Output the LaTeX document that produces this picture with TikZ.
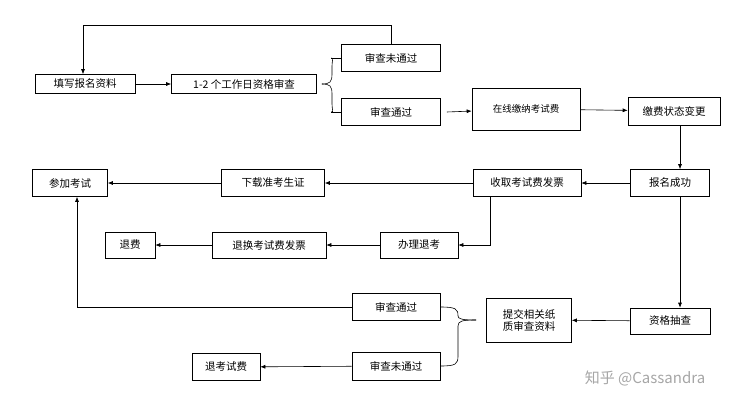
\documentclass[tikz,border=0pt]{standalone}
\usepackage{fontspec}
\setmainfont{Noto Sans CJK SC}
\usetikzlibrary{positioning,arrows.meta}
\tikzstyle{box}=[draw, line width=0.6pt, inner sep=0pt, minimum height=19pt, font=\fontsize{10.5}{12}\selectfont]
\tikzstyle{arr}=[line width=0.6pt, -{Latex[length=5pt,width=4pt]}]

\begin{document}
\begin{tikzpicture}[x=1pt, y=-1pt, line width=0.6pt]
            \useasboundingbox (0,0) rectangle (754,407);
            \node[box, minimum width=100pt] (fill) at (85,84) {填写报名资料};
            \node[box, minimum width=145pt] (rev) at (244,84) {1-2 个工作日资格审查};
            \node[box, minimum width=99pt, minimum height=27pt] (nok1) at (391,58) {审查未通过};
            \node[box, minimum width=99pt, minimum height=27pt] (ok1) at (391,112) {审查通过};
            \node[box, minimum width=108pt, minimum height=42pt, font=\fontsize{9.5}{11}\selectfont] (pay) at (526,109) {在线缴纳考试费};
            \node[box, minimum width=92pt, minimum height=28pt] (state) at (674,111) {缴费状态变更};
            \node[box, minimum width=79pt, minimum height=27pt] (done) at (670,183) {报名成功};
            \node[box, minimum width=108pt, minimum height=27pt] (bill) at (527,183) {收取考试费发票};
            \node[box, minimum width=103pt, minimum height=27pt] (card) at (273,183) {下载准考生证};
            \node[box, minimum width=75pt, minimum height=27pt] (exam) at (70,183) {参加考试};
            \node[box, minimum width=78pt, minimum height=26pt] (quit) at (419,245) {办理退考};
            \node[box, minimum width=114pt, minimum height=26pt] (swap) at (269,245) {退换考试费发票};
            \node[box, minimum width=50pt, minimum height=26pt] (back) at (130,245) {退费};
            \node[box, minimum width=80pt, minimum height=26pt] (spot) at (670,321) {资格抽查};
            \node[box, minimum width=85pt, minimum height=44pt, align=center] (paper) at (529,320) {提交相关纸\\质审查资料};
            \node[box, minimum width=88pt, minimum height=27pt] (ok2) at (396,307) {审查通过};
            \node[box, minimum width=88pt, minimum height=28pt] (nok2) at (396,366) {审查未通过};
            \node[box, minimum width=68pt, minimum height=27pt] (money) at (226,367) {退考试费};
            \node[text=gray!70, font=\fontsize{15}{17}\selectfont] (mark) at (645,378) {知乎 @Cassandra};

            \draw[arr] (fill) -- (rev);
            \draw[arr] (nok1.north) |- (83,25) -- (fill.north -| 83,0);
            \draw[arr] (ok1.east) ++(6,0) coordinate (o1) -- (pay);
            \draw[arr] (pay) -- (state);
            \draw[arr] (state.south -| 680,0) -- (done.north -| 680,0);
            \draw[arr] (done) -- (bill);
            \draw[arr] (bill) -- (card);
            \draw[arr] (card) -- (exam);
            \draw[arr] (bill.south -| 490,0) |- (quit.east);
            \draw[arr] (quit) -- (swap);
            \draw[arr] (swap) -- (back);
            \draw[arr] (done.south -| 680,0) -- (spot.north -| 680,0);
            \draw[arr] (spot) -- (paper);
            \draw[arr] (ok2.west) -| (exam.south -| 77,0);
            \draw[arr] (nok2) -- (money);

            % braces
            \draw (rev.east) ++(5,0) coordinate (b1)
                  (nok1.west) ++(-10,0) coordinate (b1t) (ok1.west) ++(-10,0) coordinate (b1b);
            \draw (b1t) -- (nok1.west) (b1b) -- (ok1.west);
            \draw (b1) .. controls (330,84) and (332,82) .. (332,74) -- (332,66) .. controls (332,60) and (334,58) .. (b1t);
            \draw (b1) .. controls (330,84) and (332,86) .. (332,94) -- (332,104) .. controls (332,110) and (334,112) .. (b1b);
            \draw (paper.west) ++(-10,0) coordinate (b2);
            \draw (ok2.east) .. controls (456,307) and (458,309) .. (458,316) .. controls (458,319) and (462,320) .. (b2);
            \draw (nok2.east) .. controls (456,366) and (458,364) .. (458,356) -- (458,326) .. controls (458,321) and (462,320) .. (b2);
        \end{tikzpicture}
\end{document}
